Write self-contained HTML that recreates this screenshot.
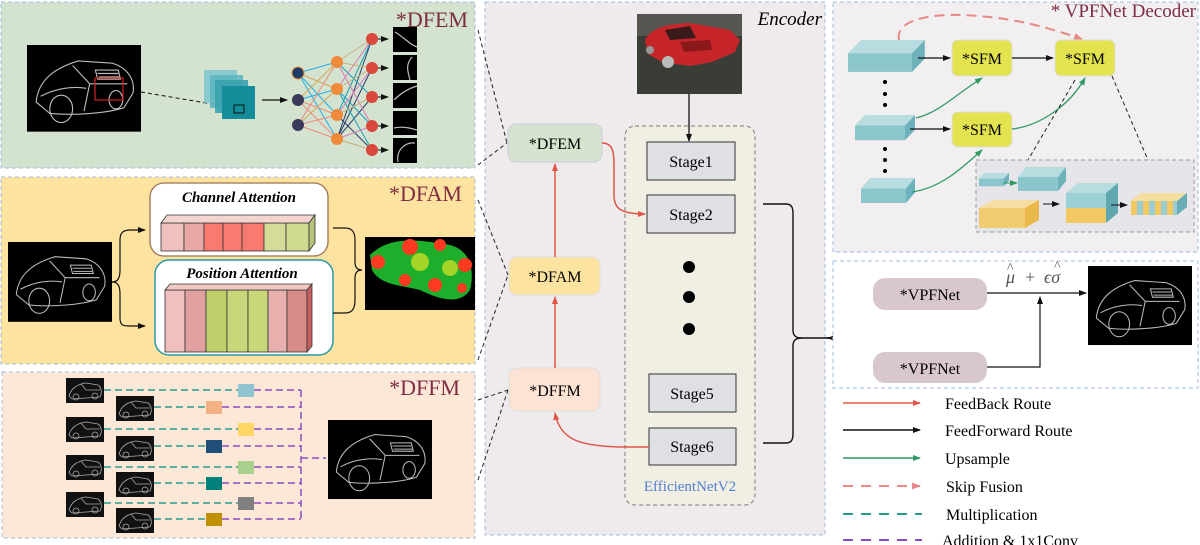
<!DOCTYPE html>
<html><head><meta charset="utf-8"><style>
html,body{margin:0;padding:0;background:#fff;width:1200px;height:545px;overflow:hidden}
svg text{font-family:"Liberation Serif",serif}
</style></head><body>
<svg width="1200" height="545" viewBox="0 0 1200 545" xmlns="http://www.w3.org/2000/svg">
<defs>
<marker id="ak" markerWidth="8" markerHeight="8" refX="7" refY="4" orient="auto" markerUnits="userSpaceOnUse"><path d="M0,1 L8,4 L0,7z" fill="#111"/></marker>
<marker id="ar" markerWidth="8" markerHeight="8" refX="7" refY="4" orient="auto" markerUnits="userSpaceOnUse"><path d="M0,1 L8,4 L0,7z" fill="#e05545"/></marker>
<marker id="ag" markerWidth="8" markerHeight="8" refX="7" refY="4" orient="auto" markerUnits="userSpaceOnUse"><path d="M0,1 L8,4 L0,7z" fill="#2f9a63"/></marker>
<marker id="ap" markerWidth="9" markerHeight="9" refX="8" refY="4.5" orient="auto" markerUnits="userSpaceOnUse"><path d="M0,1 L9,4.5 L0,8z" fill="#e58a86"/></marker>
<g id="car">
<rect x="0" y="0" width="100" height="76" fill="#000"/>
<g fill="none" stroke="#bbb" stroke-width="1">
<path d="M8,50 C10,30 25,20 45,14 L75,16 C88,20 95,30 93,42 L85,55 C70,60 40,62 20,60 Z"/>
<path d="M40,18 L55,34 L88,34"/><path d="M55,34 L50,58"/>
<ellipse cx="30" cy="56" rx="10" ry="12"/><ellipse cx="78" cy="48" rx="6" ry="8"/>
<path d="M60,22 L80,22 L82,30 L62,30Z"/><path d="M62,25 L80,25 M63,28 L81,28"/>
<path d="M12,45 C25,38 40,36 52,38"/>
</g></g>
<g id="thumb"><rect width="38" height="25" fill="#111"/><g fill="none" stroke="#aaa" stroke-width="0.8"><path d="M3,18 C5,10 12,6 20,5 L32,7 C36,10 36,15 34,19 L6,21Z"/><circle cx="10" cy="19" r="3"/><circle cx="29" cy="18" r="3"/><path d="M15,6 L20,12 L34,12"/></g></g>
<g id="slab"><path d="M0,10 L10,0 L60,0 L50,10Z" fill="#b8dde0"/><path d="M50,10 L60,0 L60,14 L50,24Z" fill="#6db1ba"/><rect x="0" y="10" width="50" height="14" fill="#8cc6cd"/></g>
</defs>

<!-- ===== DFEM panel ===== -->
<rect x="1" y="2" width="474" height="166" fill="#d3e3cf" stroke="#9fbfe0" stroke-dasharray="4,3"/>
<text x="468" y="27" font-size="22" fill="#7e2e44" text-anchor="end">*DFEM</text>
<use href="#car" transform="translate(27,45) scale(1.14,1.14)"/>
<rect x="95" y="78" width="28" height="22" fill="none" stroke="#d02020" stroke-width="1.2"/>
<line x1="141" y1="92" x2="236" y2="108" stroke="#111" stroke-dasharray="4,3"/>
<rect x="204" y="70" width="33" height="33" fill="#7fc6cc" opacity=".9"/>
<rect x="210" y="75" width="33" height="33" fill="#5fb6c0" opacity=".9"/>
<rect x="215" y="80" width="33" height="33" fill="#3aa2ae" opacity=".9"/>
<rect x="222" y="86" width="33" height="33" fill="#138d99"/>
<rect x="234" y="105" width="10" height="8" fill="none" stroke="#111"/>
<line x1="262" y1="100" x2="287" y2="100" stroke="#111" stroke-width="1.3" marker-end="url(#ak)"/>
<g stroke-width="1">
<g stroke="#27aee8"><line x1="298" y1="73" x2="337" y2="62"/><line x1="298" y1="73" x2="337" y2="115"/><line x1="298" y1="73" x2="337" y2="139"/><line x1="298" y1="100" x2="337" y2="89"/></g>
<g stroke="#d5a95a"><line x1="298" y1="100" x2="337" y2="62"/><line x1="298" y1="125" x2="337" y2="89"/><line x1="298" y1="73" x2="337" y2="89"/></g>
<g stroke="#f08a7c"><line x1="298" y1="125" x2="337" y2="115"/><line x1="298" y1="125" x2="337" y2="139"/><line x1="298" y1="100" x2="337" y2="139"/><line x1="298" y1="100" x2="337" y2="115"/><line x1="298" y1="125" x2="337" y2="62"/></g>
<g stroke="#2a3a6a"><line x1="337" y1="139" x2="372" y2="39"/><line x1="337" y1="139" x2="372" y2="68"/><line x1="337" y1="139" x2="372" y2="97"/><line x1="337" y1="115" x2="372" y2="150"/></g>
<g stroke="#1aa0b8"><line x1="337" y1="89" x2="372" y2="126"/><line x1="337" y1="89" x2="372" y2="150"/><line x1="337" y1="62" x2="372" y2="97"/><line x1="337" y1="115" x2="372" y2="39"/></g>
<g stroke="#d97ab7"><line x1="337" y1="62" x2="372" y2="126"/><line x1="337" y1="115" x2="372" y2="68"/><line x1="337" y1="89" x2="372" y2="39"/><line x1="337" y1="139" x2="372" y2="126"/></g>
<g stroke="#c8b080"><line x1="337" y1="62" x2="372" y2="39"/><line x1="337" y1="62" x2="372" y2="68"/><line x1="337" y1="89" x2="372" y2="68"/><line x1="337" y1="115" x2="372" y2="97"/><line x1="337" y1="139" x2="372" y2="150"/></g>
</g>
<circle cx="298" cy="73" r="6" fill="#1e3a66" stroke="#e88a3a" stroke-width="1"/>
<circle cx="298" cy="100" r="6" fill="#3a3a5a"/><circle cx="298" cy="125" r="6" fill="#3a3a5a"/>
<g fill="#ef8a3a"><circle cx="337" cy="62" r="6"/><circle cx="337" cy="89" r="6"/><circle cx="337" cy="115" r="6"/><circle cx="337" cy="139" r="6"/></g>
<g fill="#d9483a"><circle cx="372" cy="39" r="6"/><circle cx="372" cy="68" r="6"/><circle cx="372" cy="97" r="6"/><circle cx="372" cy="126" r="6"/><circle cx="372" cy="150" r="6"/></g>
<g stroke="#111" stroke-width="1"><line x1="378" y1="39" x2="388" y2="39" marker-end="url(#ak)"/><line x1="378" y1="68" x2="388" y2="68" marker-end="url(#ak)"/><line x1="378" y1="97" x2="388" y2="97" marker-end="url(#ak)"/><line x1="378" y1="126" x2="388" y2="126" marker-end="url(#ak)"/><line x1="378" y1="150" x2="388" y2="150" marker-end="url(#ak)"/></g>
<g fill="#000"><rect x="393" y="27" width="24" height="25"/><rect x="393" y="55" width="24" height="25"/><rect x="393" y="83" width="24" height="25"/><rect x="393" y="111" width="24" height="24"/><rect x="393" y="138" width="24" height="25"/></g>
<g fill="none" stroke="#bbb" stroke-width="1.2"><path d="M395,32 C405,38 410,45 417,47"/><path d="M412,57 C405,65 408,72 410,80"/><path d="M394,100 C402,92 410,88 417,86"/><path d="M394,128 C402,126 410,128 417,130"/><path d="M398,162 C396,150 405,142 415,143"/></g>

<!-- ===== DFAM panel ===== -->
<rect x="1" y="177" width="474" height="187" fill="#fde39f" stroke="#9fbfe0" stroke-dasharray="4,3"/>
<text x="462" y="201" font-size="22" fill="#7e2e44" text-anchor="end">*DFAM</text>
<use href="#car" transform="translate(8,242) scale(1.04,1.05)"/>
<path d="M112,282 C118,282 120,278 120,270 L120,240 C120,232 124,230 130,230 L145,230" fill="none" stroke="#111" stroke-width="1.2" marker-end="url(#ak)"/>
<path d="M112,282 C118,282 120,286 120,294 L120,318 C120,326 124,326 130,326 L145,326" fill="none" stroke="#111" stroke-width="1.2" marker-end="url(#ak)"/>
<rect x="150" y="183" width="178" height="73" rx="14" fill="#fff" stroke="#9c7255" stroke-width="1.3"/>
<text x="239" y="202" font-size="15" font-weight="bold" font-style="italic" text-anchor="middle">Channel Attention</text>
<g stroke="#333" stroke-width=".8">
<rect x="161" y="223" width="23" height="28" fill="#efc0bd"/><rect x="184" y="223" width="20" height="28" fill="#e8a8a6"/>
<rect x="204" y="223" width="19" height="28" fill="#fa7a70"/><rect x="223" y="223" width="19" height="28" fill="#fa7a70"/><rect x="242" y="223" width="22" height="28" fill="#fa7a70"/>
<rect x="264" y="223" width="22" height="28" fill="#d5dc9a"/><rect x="286" y="223" width="23" height="28" fill="#cfd990"/>
<path d="M161,223 L167,215 L315,215 L309,223Z" fill="#f3d4cf"/><path d="M309,223 L315,215 L315,243 L309,251Z" fill="#b8c27a"/>
</g>
<rect x="155" y="260" width="178" height="95" rx="14" fill="#fff" stroke="#2599a8" stroke-width="1.5"/>
<text x="242" y="278" font-size="15" font-weight="bold" font-style="italic" text-anchor="middle">Position Attention</text>
<g stroke="#333" stroke-width=".8">
<rect x="165" y="290" width="20" height="62" fill="#efc0bd"/><rect x="185" y="290" width="21" height="62" fill="#e0a0a0"/>
<rect x="206" y="290" width="21" height="62" fill="#bfd06a"/><rect x="227" y="290" width="21" height="62" fill="#c9d77a"/><rect x="248" y="290" width="20" height="62" fill="#c9d77a"/>
<rect x="268" y="290" width="19" height="62" fill="#e8b0ad"/><rect x="287" y="290" width="20" height="62" fill="#d88c88"/>
<path d="M165,290 L170,284 L312,284 L307,290Z" fill="#f0c8c4"/><path d="M307,290 L312,284 L312,346 L307,352Z" fill="#c86060"/>
</g>
<path d="M333,228 L345,228 C352,228 355,232 355,240 L355,262 C355,268 358,270 362,270" fill="none" stroke="#111" stroke-width="1.2"/>
<path d="M333,313 L345,313 C352,313 355,309 355,300 L355,278 C355,272 358,270 362,270" fill="none" stroke="#111" stroke-width="1.2"/>
<rect x="365" y="237" width="110" height="73" fill="#000"/>
<g fill="#22cc33" opacity=".85"><path d="M370,255 C390,235 420,240 450,245 C470,250 475,270 470,290 C460,305 440,300 420,290 C400,285 380,285 372,270Z"/></g>
<g fill="#ff3a20"><circle cx="378" cy="262" r="7"/><circle cx="410" cy="247" r="8"/><circle cx="440" cy="245" r="6"/><circle cx="465" cy="265" r="7"/><circle cx="435" cy="285" r="7"/><circle cx="405" cy="280" r="6"/><circle cx="462" cy="288" r="5"/></g>
<g fill="#ffee22" opacity=".6"><circle cx="420" cy="262" r="9"/><circle cx="450" cy="268" r="8"/></g>

<!-- ===== DFFM panel ===== -->
<rect x="2" y="372" width="473" height="166" fill="#fde8d8" stroke="#9fbfe0" stroke-dasharray="4,3"/>
<text x="460" y="395" font-size="22" fill="#7e2e44" text-anchor="end">*DFFM</text>
<g stroke="#2a9a8e" stroke-width="1.5" stroke-dasharray="7,4" fill="none">
<line x1="104" y1="390" x2="238" y2="390"/><line x1="154" y1="407" x2="206" y2="407"/>
<line x1="104" y1="429" x2="238" y2="429"/><line x1="154" y1="446" x2="206" y2="446"/>
<line x1="104" y1="467" x2="238" y2="467"/><line x1="154" y1="483" x2="206" y2="483"/>
<line x1="104" y1="503" x2="238" y2="503"/><line x1="154" y1="519" x2="206" y2="519"/>
</g>
<g stroke="#8a4cc0" stroke-width="1.5" stroke-dasharray="7,4" fill="none">
<line x1="254" y1="390" x2="301" y2="390"/><line x1="222" y1="407" x2="301" y2="407"/>
<line x1="254" y1="429" x2="301" y2="429"/><line x1="222" y1="446" x2="301" y2="446"/>
<line x1="254" y1="467" x2="301" y2="467"/><line x1="222" y1="483" x2="301" y2="483"/>
<line x1="254" y1="503" x2="301" y2="503"/><line x1="222" y1="519" x2="301" y2="519"/>
<line x1="301" y1="390" x2="301" y2="519"/><line x1="301" y1="458" x2="326" y2="458"/>
</g>
<use href="#thumb" x="66" y="378"/><use href="#thumb" x="116" y="396"/>
<use href="#thumb" x="66" y="417"/><use href="#thumb" x="116" y="436"/>
<use href="#thumb" x="66" y="455"/><use href="#thumb" x="116" y="472"/>
<use href="#thumb" x="66" y="492"/><use href="#thumb" x="116" y="508"/>
<rect x="238" y="384" width="16" height="13" fill="#8fc4d0"/><rect x="206" y="401" width="16" height="13" fill="#f3b185"/>
<rect x="238" y="423" width="16" height="13" fill="#fed765"/><rect x="206" y="440" width="16" height="13" fill="#1f4e79"/>
<rect x="238" y="461" width="16" height="13" fill="#a9d18e"/><rect x="206" y="477" width="16" height="13" fill="#00807a"/>
<rect x="238" y="497" width="16" height="13" fill="#7f7f7f"/><rect x="206" y="513" width="16" height="13" fill="#bf9000"/>
<use href="#car" transform="translate(328,420) scale(1.04,1.04)"/>

<!-- ===== Encoder ===== -->
<rect x="485" y="2" width="340" height="533" fill="#efeaec" stroke="#9fbfe0" stroke-dasharray="4,3"/>
<text x="822" y="25" font-size="19" font-style="italic" text-anchor="end">Encoder</text>
<rect x="637" y="14" width="105" height="80" fill="#3a3c36"/>
<rect x="637" y="14" width="105" height="22" fill="#55564f"/>
<path d="M645,40 C650,30 662,24 690,23 L730,30 L740,40 L735,52 L712,62 L690,66 L662,62 L648,54Z" fill="#c6262a"/>
<path d="M665,30 L690,26 L696,38 L670,40Z" fill="#3a1a1a"/>
<path d="M680,42 L710,40 L712,50 L684,52Z" fill="#8a1818"/>
<circle cx="668" cy="62" r="6" fill="#bbb"/><circle cx="650" cy="50" r="4" fill="#999"/>
<rect x="625" y="126" width="130" height="379" rx="10" fill="#f1efe4" stroke="#777" stroke-dasharray="4,3"/>
<line x1="689" y1="94" x2="689" y2="141" stroke="#111" stroke-width="1.3" marker-end="url(#ak)"/>
<g fill="#dfe0e4" stroke="#333" stroke-width="1">
<rect x="647" y="142" width="88" height="38"/><rect x="647" y="195" width="88" height="38"/>
<rect x="649" y="374" width="87" height="38"/><rect x="649" y="428" width="87" height="37"/>
</g>
<g font-size="16" text-anchor="middle">
<text x="691" y="167">Stage1</text><text x="691" y="220">Stage2</text>
<text x="692" y="399">Stage5</text><text x="692" y="452">Stage6</text>
</g>
<circle cx="689" cy="267" r="6" fill="#000"/><circle cx="689" cy="297" r="6" fill="#000"/><circle cx="689" cy="329" r="6" fill="#000"/>
<text x="690" y="491" font-size="15" fill="#4f7fd0" text-anchor="middle">EfficientNetV2</text>
<rect x="508" y="124" width="94" height="38" rx="8" fill="#d5e3cf" stroke="#ccd"/>
<rect x="509" y="257" width="91" height="38" rx="8" fill="#fce3a0" stroke="#ddd"/>
<rect x="509" y="368" width="91" height="43" rx="8" fill="#fce3d4" stroke="#ddd"/>
<g font-size="16" text-anchor="middle"><text x="555" y="149">*DFEM</text><text x="555" y="282">*DFAM</text><text x="555" y="396">*DFFM</text></g>
<line x1="555" y1="257" x2="555" y2="164" stroke="#e05545" stroke-width="1.5" marker-end="url(#ar)"/>
<line x1="555" y1="368" x2="555" y2="297" stroke="#e05545" stroke-width="1.5" marker-end="url(#ar)"/>
<path d="M602,143 C612,143 614,150 614,165 L614,195 C614,208 620,214 645,214" fill="none" stroke="#e05545" stroke-width="1.5" marker-end="url(#ar)"/>
<path d="M649,447 L620,447 C580,446 560,440 555,413" fill="none" stroke="#e05545" stroke-width="1.5" marker-end="url(#ar)"/>
<g stroke="#222" stroke-dasharray="4,3" fill="none" stroke-width="1">
<line x1="478" y1="30" x2="507" y2="143"/><line x1="478" y1="165" x2="507" y2="143"/>
<line x1="478" y1="200" x2="508" y2="275"/><line x1="478" y1="360" x2="508" y2="275"/>
<line x1="478" y1="400" x2="508" y2="390"/><line x1="478" y1="480" x2="508" y2="390"/>
</g>
<path d="M763,204 L786,204 C792,204 793,208 793,214 L793,330 C793,336 796,338 802,338 L826,338 C834,338 838,334 838,326 L838,303 C838,296 842,293 850,293 L871,293" fill="none" stroke="#111" stroke-width="1.4" marker-end="url(#ak)"/>
<path d="M763,443 L786,443 C792,443 793,439 793,433 L793,346 C793,340 796,338 802,338 M826,338 C834,338 838,342 838,350 L838,358 C838,364 842,367 850,367 L871,367" fill="none" stroke="#111" stroke-width="1.4" marker-end="url(#ak)"/>

<!-- ===== Decoder ===== -->
<rect x="833" y="2" width="365" height="250" fill="#f2eff0" stroke="#9fbfe0" stroke-dasharray="4,3"/>
<text x="1196" y="17" font-size="19" fill="#7e2e44" text-anchor="end">* VPFNet Decoder</text>
<path d="M899,40 C895,20 930,14 960,15 C1010,17 1040,25 1082,39" fill="none" stroke="#e58a86" stroke-width="2" stroke-dasharray="10,6" marker-end="url(#ap)"/>
<use href="#slab" transform="translate(848,40) scale(1.28,1.33)"/>
<use href="#slab" transform="translate(855,115) scale(1.0,1.05)"/>
<use href="#slab" transform="translate(861,178) scale(0.9,1.04)"/>
<g fill="#000"><circle cx="885" cy="82" r="2"/><circle cx="885" cy="94" r="2"/><circle cx="885" cy="105" r="2"/><circle cx="885" cy="149" r="2"/><circle cx="885" cy="160" r="2"/><circle cx="885" cy="171" r="2"/></g>
<rect x="952" y="40" width="60" height="36" rx="6" fill="#e3e34f" stroke="#ddd"/>
<rect x="1055" y="40" width="60" height="36" rx="6" fill="#e3e34f" stroke="#ddd"/>
<rect x="952" y="112" width="60" height="35" rx="6" fill="#e3e34f" stroke="#ddd"/>
<g font-size="16" text-anchor="middle"><text x="982" y="64">*SFM</text><text x="1085" y="64">*SFM</text><text x="982" y="135">*SFM</text></g>
<g stroke="#111" stroke-width="1.2"><line x1="918" y1="58" x2="950" y2="58" marker-end="url(#ak)"/><line x1="1012" y1="58" x2="1053" y2="58" marker-end="url(#ak)"/><line x1="910" y1="129" x2="950" y2="129" marker-end="url(#ak)"/></g>
<g stroke="#2f9a63" stroke-width="1.3" fill="none">
<path d="M916,118 C940,112 955,95 982,78" marker-end="url(#ag)"/>
<path d="M912,192 C940,188 960,170 982,150" marker-end="url(#ag)"/>
<path d="M1012,129 C1040,126 1070,105 1085,78" marker-end="url(#ag)"/>
</g>
<g stroke="#222" stroke-dasharray="4,3" stroke-width="1"><line x1="1075" y1="80" x2="1028" y2="160"/><line x1="1112" y1="76" x2="1148" y2="160"/></g>
<rect x="976" y="160" width="218" height="72" fill="#e5e5ea" stroke="#999" stroke-dasharray="4,3"/>
<use href="#slab" transform="translate(979,173) scale(0.5,0.55)"/>
<line x1="1003" y1="183" x2="1017" y2="183" stroke="#2f9a63" marker-end="url(#ag)"/>
<use href="#slab" transform="translate(1018,167) scale(0.8,1.0)"/>
<g transform="translate(979,200)"><path d="M0,8 L14,0 L60,0 L46,8Z" fill="#f5dda4"/><path d="M46,8 L60,0 L60,20 L46,28Z" fill="#e8b84a"/><rect y="8" width="46" height="20" fill="#f2cc70"/></g>
<line x1="1043" y1="204" x2="1059" y2="204" stroke="#111" marker-end="url(#ak)"/>
<g transform="translate(1066,183)"><path d="M0,10 L12,0 L52,0 L40,10Z" fill="#b8dde0"/><path d="M40,10 L52,0 L52,30 L40,40Z" fill="#5fa8b0"/><rect y="10" width="40" height="15" fill="#9bd0d5"/><rect y="25" width="40" height="15" fill="#f2c862"/></g>
<line x1="1111" y1="205" x2="1127" y2="205" stroke="#111" marker-end="url(#ak)"/>
<g transform="translate(1131,193)"><path d="M0,8 L10,0 L56,0 L46,8Z" fill="#f3dfa0"/><rect y="8" width="46" height="14" fill="#9ccbd3"/><rect y="8" width="6" height="14" fill="#f2c862"/><rect x="12" y="8" width="6" height="14" fill="#f2c862"/><rect x="24" y="8" width="6" height="14" fill="#f2c862"/><rect x="36" y="8" width="6" height="14" fill="#f2c862"/><path d="M46,8 L56,0 L56,14 L46,22Z" fill="#6aacb4"/></g>

<!-- ===== VPFNet box ===== -->
<rect x="833" y="261" width="365" height="127" fill="#fff" stroke="#9fbfe0" stroke-dasharray="4,3"/>
<rect x="873" y="278" width="114" height="32" rx="12" fill="#d8c8cb"/>
<rect x="873" y="352" width="114" height="31" rx="12" fill="#d8c8cb"/>
<g font-size="16" text-anchor="middle"><text x="930" y="300">*VPFNet</text><text x="930" y="374">*VPFNet</text></g>
<line x1="987" y1="293" x2="1086" y2="293" stroke="#111" stroke-width="1.2" marker-end="url(#ak)"/>
<path d="M987,367 L1040,367 L1040,297" fill="none" stroke="#111" stroke-width="1.2" marker-end="url(#ak)"/>
<g fill="#555" font-size="18" font-style="italic">
<text x="1006" y="283">μ</text><text x="1007" y="272" font-size="14" font-style="normal">^</text>
<text x="1025" y="283" font-style="normal">+</text>
<text x="1044" y="283">ϵσ</text><text x="1054" y="270" font-size="14" font-style="normal">^</text>
</g>
<use href="#car" transform="translate(1088,266) scale(1.04,1.04)"/>

<!-- ===== Legend ===== -->
<g stroke-width="1.5">
<line x1="843" y1="403" x2="920" y2="403" stroke="#e05545" marker-end="url(#ar)"/>
<line x1="843" y1="430" x2="920" y2="430" stroke="#111" marker-end="url(#ak)"/>
<line x1="843" y1="458" x2="920" y2="458" stroke="#2f9a63" marker-end="url(#ag)"/>
<line x1="843" y1="486" x2="920" y2="486" stroke="#e58a86" stroke-width="2" stroke-dasharray="10,8" marker-end="url(#ap)"/>
<line x1="843" y1="514" x2="922" y2="514" stroke="#2a9a8e" stroke-width="2" stroke-dasharray="10,8"/>
<line x1="843" y1="540" x2="922" y2="540" stroke="#8a4cc0" stroke-width="2" stroke-dasharray="10,8"/>
</g>
<g font-size="16">
<text x="945" y="409">FeedBack Route</text>
<text x="945" y="436">FeedForward Route</text>
<text x="945" y="464">Upsample</text>
<text x="946" y="492">Skip Fusion</text>
<text x="946" y="520">Multiplication</text>
<text x="942" y="546">Addition &amp; 1x1Conv</text>
</g>
</svg>
</body></html>
